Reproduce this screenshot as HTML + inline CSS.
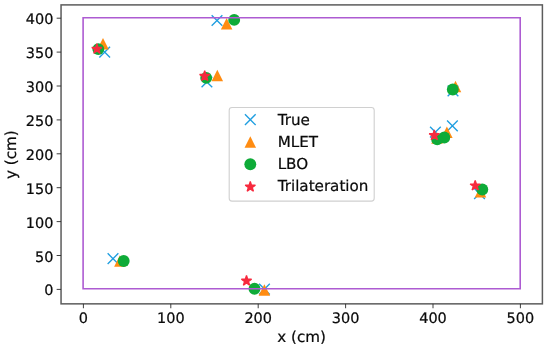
<!DOCTYPE html>
<html lang="en"><head><meta charset="utf-8"><title>Localization plot</title>
<style>html,body{margin:0;padding:0;background:#fff;width:550px;height:349px;overflow:hidden}text{stroke:#0a0a0a;stroke-width:.22px}</style>
</head><body>
<svg width="550" height="349" viewBox="0 0 550 349" style="display:block;position:absolute;left:0;top:0" font-family="'DejaVu Sans','Liberation Sans',sans-serif" font-size="15.15" fill="#0a0a0a" text-rendering="geometricPrecision">
<rect x="0" y="0" width="550" height="349" fill="#fff"/>
<path d="M99.35 46.85L110.05 57.55M99.35 57.55L110.05 46.85" stroke="#1f9ee0" stroke-width="1.35" fill="none"/>
<path d="M211.65 15.15L222.35 25.85M211.65 25.85L222.35 15.15" stroke="#1f9ee0" stroke-width="1.35" fill="none"/>
<path d="M201.55 76.65L212.25 87.35M201.55 87.35L212.25 76.65" stroke="#1f9ee0" stroke-width="1.35" fill="none"/>
<path d="M447.65 85.65L458.35 96.35M447.65 96.35L458.35 85.65" stroke="#1f9ee0" stroke-width="1.35" fill="none"/>
<path d="M447.05 120.45L457.75 131.15M447.05 131.15L457.75 120.45" stroke="#1f9ee0" stroke-width="1.35" fill="none"/>
<path d="M430.05 126.85L440.75 137.55M430.05 137.55L440.75 126.85" stroke="#1f9ee0" stroke-width="1.35" fill="none"/>
<path d="M474.15 188.35L484.85 199.05M474.15 199.05L484.85 188.35" stroke="#1f9ee0" stroke-width="1.35" fill="none"/>
<path d="M107.65 253.35L118.35 264.05M107.65 264.05L118.35 253.35" stroke="#1f9ee0" stroke-width="1.35" fill="none"/>
<path d="M259.10 283.75L269.80 294.45M259.10 294.45L269.80 283.75" stroke="#1f9ee0" stroke-width="1.35" fill="none"/>
<path d="M103.00 38.05L108.75 49.55L97.25 49.55Z" fill="#ff8c12"/>
<path d="M226.60 18.00L232.35 29.50L220.85 29.50Z" fill="#ff8c12"/>
<path d="M217.30 69.65L223.05 81.15L211.55 81.15Z" fill="#ff8c12"/>
<path d="M455.50 80.65L461.25 92.15L449.75 92.15Z" fill="#ff8c12"/>
<path d="M446.90 126.45L452.65 137.95L441.15 137.95Z" fill="#ff8c12"/>
<path d="M437.00 132.25L442.75 143.75L431.25 143.75Z" fill="#ff8c12"/>
<path d="M480.50 186.05L486.25 197.55L474.75 197.55Z" fill="#ff8c12"/>
<path d="M119.90 255.35L125.65 266.85L114.15 266.85Z" fill="#ff8c12"/>
<path d="M264.40 284.15L270.15 295.65L258.65 295.65Z" fill="#ff8c12"/>
<circle cx="98.30" cy="49.10" r="5.95" fill="#0eab38"/>
<circle cx="234.20" cy="19.90" r="5.95" fill="#0eab38"/>
<circle cx="206.20" cy="77.90" r="5.95" fill="#0eab38"/>
<circle cx="452.80" cy="89.50" r="5.95" fill="#0eab38"/>
<circle cx="444.30" cy="137.50" r="5.95" fill="#0eab38"/>
<circle cx="437.20" cy="139.40" r="5.95" fill="#0eab38"/>
<circle cx="482.30" cy="189.50" r="5.95" fill="#0eab38"/>
<circle cx="123.70" cy="261.00" r="5.95" fill="#0eab38"/>
<circle cx="254.50" cy="288.70" r="5.95" fill="#0eab38"/>
<polygon points="96.90,43.65 95.70,47.35 91.81,47.35 94.96,49.63 93.76,53.33 96.90,51.04 100.04,53.33 98.84,49.63 101.99,47.35 98.10,47.35" fill="#f72a3e" stroke="#f72a3e" stroke-width="1.3" stroke-linejoin="bevel"/>
<polygon points="204.70,70.75 203.50,74.45 199.61,74.45 202.76,76.73 201.56,80.43 204.70,78.14 207.84,80.43 206.64,76.73 209.79,74.45 205.90,74.45" fill="#f72a3e" stroke="#f72a3e" stroke-width="1.3" stroke-linejoin="bevel"/>
<polygon points="434.30,129.95 433.10,133.65 429.21,133.65 432.36,135.93 431.16,139.63 434.30,137.34 437.44,139.63 436.24,135.93 439.39,133.65 435.50,133.65" fill="#f72a3e" stroke="#f72a3e" stroke-width="1.3" stroke-linejoin="bevel"/>
<polygon points="475.20,180.35 474.00,184.05 470.11,184.05 473.26,186.33 472.06,190.03 475.20,187.74 478.34,190.03 477.14,186.33 480.29,184.05 476.40,184.05" fill="#f72a3e" stroke="#f72a3e" stroke-width="1.3" stroke-linejoin="bevel"/>
<polygon points="246.50,275.55 245.30,279.25 241.41,279.25 244.56,281.53 243.36,285.23 246.50,282.94 249.64,285.23 248.44,281.53 251.59,279.25 247.70,279.25" fill="#f72a3e" stroke="#f72a3e" stroke-width="1.3" stroke-linejoin="bevel"/>
<path d="M83.1 288.75L520.2 288.75L520.2 17.75L83.1 17.75L83.1 288.75" fill="none" stroke="#ad5bd2" stroke-width="1.6" stroke-linejoin="miter" stroke-linecap="square"/>
<rect x="61.05" y="4.9" width="481.34999999999997" height="298.95000000000005" fill="none" stroke="#5c5c5c" stroke-width="1.5"/>
<path d="M83.40 303.85V308.25" stroke="#2a2a2a" stroke-width="0.9"/>
<text x="83.40" y="322.8" text-anchor="middle" font-size="14.45">0</text>
<path d="M170.80 303.85V308.25" stroke="#2a2a2a" stroke-width="0.9"/>
<text x="170.80" y="322.8" text-anchor="middle" font-size="14.45">100</text>
<path d="M258.20 303.85V308.25" stroke="#2a2a2a" stroke-width="0.9"/>
<text x="258.20" y="322.8" text-anchor="middle" font-size="14.45">200</text>
<path d="M345.60 303.85V308.25" stroke="#2a2a2a" stroke-width="0.9"/>
<text x="345.60" y="322.8" text-anchor="middle" font-size="14.45">300</text>
<path d="M433.00 303.85V308.25" stroke="#2a2a2a" stroke-width="0.9"/>
<text x="433.00" y="322.8" text-anchor="middle" font-size="14.45">400</text>
<path d="M520.40 303.85V308.25" stroke="#2a2a2a" stroke-width="0.9"/>
<text x="520.40" y="322.8" text-anchor="middle" font-size="14.45">500</text>
<path d="M61.05 289.40H56.65" stroke="#2a2a2a" stroke-width="0.9"/>
<text x="53.4" y="295.40" text-anchor="end" font-size="14.45">0</text>
<path d="M61.05 255.50H56.65" stroke="#2a2a2a" stroke-width="0.9"/>
<text x="53.4" y="261.50" text-anchor="end" font-size="14.45">50</text>
<path d="M61.05 221.60H56.65" stroke="#2a2a2a" stroke-width="0.9"/>
<text x="53.4" y="227.60" text-anchor="end" font-size="14.45">100</text>
<path d="M61.05 187.70H56.65" stroke="#2a2a2a" stroke-width="0.9"/>
<text x="53.4" y="193.70" text-anchor="end" font-size="14.45">150</text>
<path d="M61.05 153.80H56.65" stroke="#2a2a2a" stroke-width="0.9"/>
<text x="53.4" y="159.80" text-anchor="end" font-size="14.45">200</text>
<path d="M61.05 119.90H56.65" stroke="#2a2a2a" stroke-width="0.9"/>
<text x="53.4" y="125.90" text-anchor="end" font-size="14.45">250</text>
<path d="M61.05 86.00H56.65" stroke="#2a2a2a" stroke-width="0.9"/>
<text x="53.4" y="92.00" text-anchor="end" font-size="14.45">300</text>
<path d="M61.05 52.10H56.65" stroke="#2a2a2a" stroke-width="0.9"/>
<text x="53.4" y="58.10" text-anchor="end" font-size="14.45">350</text>
<path d="M61.05 18.20H56.65" stroke="#2a2a2a" stroke-width="0.9"/>
<text x="53.4" y="24.20" text-anchor="end" font-size="14.45">400</text>
<text x="301.6" y="341.7" text-anchor="middle">x (cm)</text>
<text transform="translate(15.6 154.6) rotate(-90)" text-anchor="middle">y (cm)</text>
<rect x="229.2" y="107.5" width="145" height="93.6" rx="2.8" ry="2.8" fill="#fff" fill-opacity="0.8" stroke="#d0d0d0" stroke-width="1.1"/>
<path d="M244.95 114.35L255.65 125.05M244.95 125.05L255.65 114.35" stroke="#1f9ee0" stroke-width="1.35" fill="none"/>
<path d="M250.30 136.35L256.05 147.85L244.55 147.85Z" fill="#ff8c12"/>
<circle cx="250.30" cy="164.20" r="5.95" fill="#0eab38"/>
<polygon points="250.30,181.55 249.10,185.25 245.21,185.25 248.36,187.53 247.16,191.23 250.30,188.94 253.44,191.23 252.24,187.53 255.39,185.25 251.50,185.25" fill="#f72a3e" stroke="#f72a3e" stroke-width="1.3" stroke-linejoin="bevel"/>
<text x="277.7" y="124.8">True</text>
<text x="277.7" y="147.0">MLET</text>
<text x="277.7" y="169.2">LBO</text>
<text x="277.7" y="191.4">Trilateration</text>
</svg>
</body></html>
